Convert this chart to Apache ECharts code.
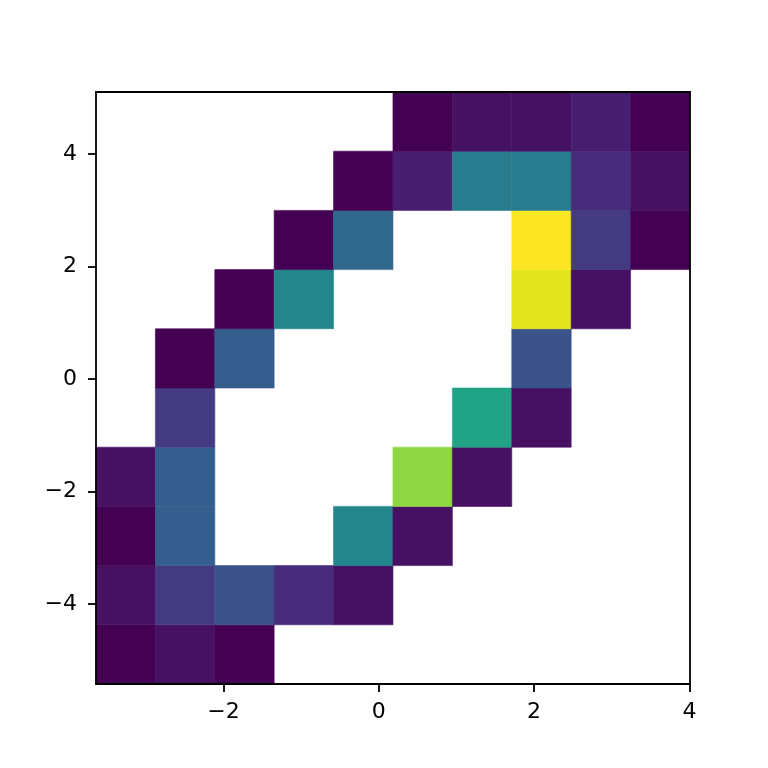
<!DOCTYPE html>
<html>
<head>
<meta charset="utf-8">
<script src="https://cdn.jsdelivr.net/npm/echarts@6/dist/echarts.min.js"></script>
<style>
html,body{margin:0;padding:0;background:#fff;}
#chart{width:768px;height:768px;}
</style>
</head>
<body>
<div id="chart"></div>
<script>
// Histogram bin edges
const xEdges = [-3.641, -2.876, -2.111, -1.347, -0.582, 0.183, 0.948, 1.713, 2.478, 3.243, 4.008];
const yEdges = [-5.42, -4.368, -3.316, -2.264, -1.212, -0.16, 0.892, 1.944, 2.996, 4.048, 5.10];

// Counts per y-bin row (bottom row first), one value per x-bin; 0 = empty (white)
const row0 = [1, 2, 1, 0, 0, 0, 0, 0, 0, 0];
const row1 = [2, 5, 7, 4, 2, 0, 0, 0, 0, 0];
const row2 = [1, 8, 0, 0, 12, 2, 0, 0, 0, 0];
const row3 = [2, 8, 0, 0, 0, 21, 2, 0, 0, 0];
const row4 = [0, 5, 0, 0, 0, 0, 15, 2, 0, 0];
const row5 = [0, 1, 8, 0, 0, 0, 0, 7, 0, 0];
const row6 = [0, 0, 1, 12, 0, 0, 0, 24, 2, 0];
const row7 = [0, 0, 0, 1, 9, 0, 0, 25, 5, 1];
const row8 = [0, 0, 0, 0, 1, 3, 11, 11, 4, 2];
const row9 = [0, 0, 0, 0, 0, 1, 2, 2, 3, 1];
const rows = [row0, row1, row2, row3, row4, row5, row6, row7, row8, row9];

const xTicks = [-2, 0, 2, 4];
const yTicks = [-4, -2, 0, 2, 4];

const viridis = ['#440154','#481567','#482677','#453781','#3f4788','#39558c','#32648e','#2d718e',
  '#287d8e','#238a8d','#1f968b','#20a386','#29af7f','#3cbc75','#56c667','#75d054','#95d840',
  '#b8de29','#dce318','#fde725'];

const data = [];
let vmin = Infinity, vmax = -Infinity;
rows.forEach((row, j) => {
  row.forEach((c, i) => {
    if (c > 0) {
      data.push([xEdges[i], xEdges[i + 1], yEdges[j], yEdges[j + 1], c]);
      vmin = Math.min(vmin, c); vmax = Math.max(vmax, c);
    }
  });
});

const fmt = v => String(v).replace('-', '\u2212');
const labelFont = {fontFamily: 'DejaVu Sans', fontSize: 22, color: '#000'};
const lineW = 1.8;

const chart = echarts.init(document.getElementById('chart'), null, {renderer: 'canvas'});
chart.setOption({
  animation: false,
  backgroundColor: '#fff',
  grid: {left: 96, top: 92, width: 594, height: 592, containLabel: false},
  visualMap: {show: false, type: 'continuous', min: vmin, max: vmax, dimension: 4,
    inRange: {color: viridis}},
  xAxis: [{
    type: 'value', min: xEdges[0], max: xEdges[10], position: 'bottom', z: 10,
    axisLine: {show: true, onZero: false, lineStyle: {color: '#000', width: lineW}},
    axisTick: {show: true, length: 8, inside: false, customValues: xTicks, lineStyle: {color: '#000', width: lineW}},
    axisLabel: Object.assign({show: true, margin: 17, customValues: xTicks, formatter: fmt}, labelFont),
    splitLine: {show: false}
  }, {
    type: 'value', min: xEdges[0], max: xEdges[10], position: 'top', z: 10,
    axisLine: {show: true, onZero: false, lineStyle: {color: '#000', width: lineW}},
    axisTick: {show: false}, axisLabel: {show: false}, splitLine: {show: false}
  }],
  yAxis: [{
    type: 'value', min: yEdges[0], max: yEdges[10], position: 'left', z: 10,
    axisLine: {show: true, onZero: false, lineStyle: {color: '#000', width: lineW}},
    axisTick: {show: true, length: 8, inside: false, customValues: yTicks, lineStyle: {color: '#000', width: lineW}},
    axisLabel: Object.assign({show: true, margin: 19, customValues: yTicks, formatter: fmt}, labelFont),
    splitLine: {show: false}
  }, {
    type: 'value', min: yEdges[0], max: yEdges[10], position: 'right', z: 10,
    axisLine: {show: true, onZero: false, lineStyle: {color: '#000', width: lineW}},
    axisTick: {show: false}, axisLabel: {show: false}, splitLine: {show: false}
  }],
  series: [{
    type: 'custom',
    xAxisIndex: 0, yAxisIndex: 0,
    encode: {x: [0, 1], y: [2, 3]},
    data: data,
    renderItem: function (params, api) {
      const p0 = api.coord([api.value(0), api.value(3)]);
      const p1 = api.coord([api.value(1), api.value(2)]);
      const col = api.visual('color');
      return {
        type: 'rect',
        shape: {x: p0[0], y: p0[1], width: p1[0] - p0[0], height: p1[1] - p0[1]},
        style: {fill: col, stroke: col, lineWidth: 0.6}
      };
    }
  }]
});
</script>
</body>
</html>
